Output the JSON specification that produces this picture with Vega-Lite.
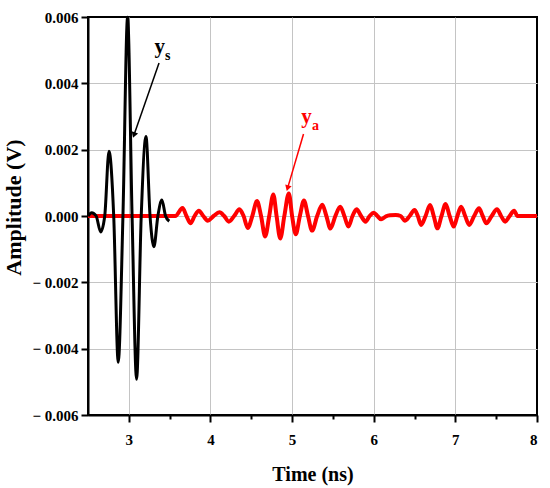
{
  "$schema": "https://vega.github.io/schema/vega-lite/v6.json",
  "width": 449,
  "height": 398,
  "autosize": "none",
  "padding": {"left": 88, "top": 17, "right": 13, "bottom": 73},
  "background": "white",
  "datasets": {
    "ys": [
      {"t": 2.5, "v": 0}, {"t": 2.545, "v": 0.0001}, {"t": 2.6, "v": 0},
      {"t": 2.655, "v": -0.00048}, {"t": 2.705, "v": 0}, {"t": 2.757, "v": 0.00195},
      {"t": 2.815, "v": 0}, {"t": 2.87, "v": -0.00441}, {"t": 2.928, "v": 0},
      {"t": 2.985, "v": 0.00599}, {"t": 3.04, "v": 0}, {"t": 3.095, "v": -0.00492},
      {"t": 3.152, "v": 0}, {"t": 3.21, "v": 0.0024}, {"t": 3.26, "v": 0},
      {"t": 3.307, "v": -0.00093}, {"t": 3.356, "v": 0}, {"t": 3.405, "v": 0.00048},
      {"t": 3.45, "v": 0}, {"t": 3.495, "v": -0.00016}
    ],
    "ya": [
      {"t": 2.5, "v": 0}, {"t": 3.5, "v": 0}, {"t": 3.57, "v": 0},
      {"t": 3.658, "v": 0.00024}, {"t": 3.706, "v": 0}, {"t": 3.755, "v": -0.00022},
      {"t": 3.806, "v": 0}, {"t": 3.858, "v": 0.00016}, {"t": 3.912, "v": 0},
      {"t": 3.966, "v": -0.00014}, {"t": 4.038, "v": 0}, {"t": 4.11, "v": 0.00011},
      {"t": 4.168, "v": 0}, {"t": 4.225, "v": -0.00017}, {"t": 4.29, "v": 0},
      {"t": 4.355, "v": 0.0002}, {"t": 4.406, "v": 0}, {"t": 4.457, "v": -0.00036},
      {"t": 4.513, "v": 0}, {"t": 4.57, "v": 0.00045}, {"t": 4.62, "v": 0},
      {"t": 4.67, "v": -0.00062}, {"t": 4.72, "v": 0}, {"t": 4.77, "v": 0.00065},
      {"t": 4.81, "v": 0}, {"t": 4.855, "v": -0.00068}, {"t": 4.905, "v": 0},
      {"t": 4.96, "v": 0.00068}, {"t": 5.0, "v": 0}, {"t": 5.045, "v": -0.00055},
      {"t": 5.095, "v": 0}, {"t": 5.145, "v": 0.00047}, {"t": 5.195, "v": 0},
      {"t": 5.245, "v": -0.00044}, {"t": 5.307, "v": 0}, {"t": 5.37, "v": 0.00034},
      {"t": 5.42, "v": 0}, {"t": 5.47, "v": -0.00038}, {"t": 5.53, "v": 0},
      {"t": 5.59, "v": 0.00028}, {"t": 5.64, "v": 0}, {"t": 5.69, "v": -0.00032},
      {"t": 5.74, "v": 0}, {"t": 5.79, "v": 0.0002}, {"t": 5.845, "v": 0},
      {"t": 5.9, "v": -0.00017}, {"t": 5.95, "v": 0}, {"t": 6.0, "v": 0.0001},
      {"t": 6.045, "v": 0}, {"t": 6.09, "v": -0.0001}, {"t": 6.15, "v": -0.00001},
      {"t": 6.2, "v": 0.00002}, {"t": 6.27, "v": 0.00003}, {"t": 6.33, "v": 0},
      {"t": 6.38, "v": -0.00014}, {"t": 6.44, "v": 0}, {"t": 6.5, "v": 0.00018},
      {"t": 6.54, "v": 0}, {"t": 6.58, "v": -0.00027}, {"t": 6.635, "v": 0},
      {"t": 6.69, "v": 0.00033}, {"t": 6.735, "v": 0}, {"t": 6.78, "v": -0.00037},
      {"t": 6.83, "v": 0}, {"t": 6.88, "v": 0.00036}, {"t": 6.93, "v": 0},
      {"t": 6.98, "v": -0.00032}, {"t": 7.025, "v": 0}, {"t": 7.07, "v": 0.00028},
      {"t": 7.12, "v": 0}, {"t": 7.17, "v": -0.00027}, {"t": 7.23, "v": 0},
      {"t": 7.29, "v": 0.00023}, {"t": 7.335, "v": 0}, {"t": 7.38, "v": -0.00022},
      {"t": 7.445, "v": 0}, {"t": 7.51, "v": 0.0002}, {"t": 7.56, "v": 0},
      {"t": 7.61, "v": -0.00017}, {"t": 7.665, "v": 0}, {"t": 7.72, "v": 0.00016},
      {"t": 7.76, "v": 0}, {"t": 8.0, "v": 0}
    ],
    "arrows": [
      {"series": "ys", "t": 3.37, "v": 0.00461, "t2": 3.063, "v2": 0.00244},
      {"series": "ya", "t": 5.14, "v": 0.00247, "t2": 4.945, "v2": 0.00084}
    ],
    "labels": [
      {"series": "ys", "main": "y", "sub": "s", "t": 3.38, "v": 0.0051, "ts": 3.478, "vs": 0.00482},
      {"series": "ya", "main": "y", "sub": "a", "t": 5.176, "v": 0.00298, "ts": 5.286, "vs": 0.00271}
    ]
  },
  "layer": [
    {
      "data": {"name": "ya"},
      "mark": {"type": "line", "color": "#ff0000", "strokeWidth": 4, "interpolate": "monotone"},
      "encoding": {
        "x": {
          "field": "t", "type": "quantitative", "title": "Time (ns)",
          "scale": {"domain": [2.5, 8], "nice": false, "zero": false},
          "axis": {
            "values": [3, 3.5, 4, 4.5, 5, 5.5, 6, 6.5, 7, 7.5, 8],
            "labelExpr": "datum.value % 1 == 0 ? format(datum.value, 'd') : ''",
            "gridOpacity": {"condition": {"test": "datum.value % 1 == 0 && datum.value < 8", "value": 1}, "value": 0},
            "tickSize": {"condition": {"test": "datum.value % 1 == 0", "value": 7}, "value": 4},
            "labelPadding": 10,
            "titlePadding": 17,
            "titleFontSize": 20
          }
        },
        "y": {
          "field": "v", "type": "quantitative", "title": "Amplitude (V)",
          "scale": {"domain": [-0.006, 0.006], "nice": false},
          "axis": {
            "values": [-0.006, -0.005, -0.004, -0.003, -0.002, -0.001, 0, 0.001, 0.002, 0.003, 0.004, 0.005, 0.006],
            "labelExpr": "abs(round(datum.value * 1000)) % 2 == 0 ? (datum.value < -0.0001 ? '− ' + format(-datum.value, '.3f') : format(abs(datum.value), '.3f')) : ''",
            "gridOpacity": {"condition": {"test": "abs(round(datum.value * 1000)) % 2 == 0 && abs(datum.value) < 0.0055", "value": 1}, "value": 0},
            "tickSize": {"condition": {"test": "abs(round(datum.value * 1000)) % 2 == 0", "value": 7}, "value": 4},
            "labelPadding": 3,
            "titlePadding": 6,
            "titleFontSize": 22,
            "titleY": 190
          }
        }
      }
    },
    {
      "data": {"name": "ys"},
      "mark": {"type": "line", "color": "#000000", "strokeWidth": 3, "interpolate": "monotone"},
      "encoding": {
        "x": {"field": "t", "type": "quantitative"},
        "y": {"field": "v", "type": "quantitative"}
      }
    },
    {
      "data": {"name": "arrows"},
      "mark": {"type": "rule", "strokeWidth": 1.5},
      "encoding": {
        "x": {"field": "t", "type": "quantitative"},
        "y": {"field": "v", "type": "quantitative"},
        "x2": {"field": "t2"},
        "y2": {"field": "v2"},
        "color": {"field": "series", "type": "nominal", "scale": {"domain": ["ys", "ya"], "range": ["#000000", "#ff0000"]}, "legend": null}
      }
    },
    {
      "data": {"name": "arrows"},
      "transform": [{"filter": "datum.series == 'ys'"}],
      "mark": {"type": "point", "shape": "triangle-up", "filled": true, "size": 45, "angle": 199, "opacity": 1},
      "encoding": {
        "x": {"field": "t2", "type": "quantitative"},
        "y": {"field": "v2", "type": "quantitative"},
        "color": {"field": "series", "type": "nominal", "legend": null}
      }
    },
    {
      "data": {"name": "arrows"},
      "transform": [{"filter": "datum.series == 'ya'"}],
      "mark": {"type": "point", "shape": "triangle-up", "filled": true, "size": 45, "angle": 197, "opacity": 1},
      "encoding": {
        "x": {"field": "t2", "type": "quantitative"},
        "y": {"field": "v2", "type": "quantitative"},
        "color": {"field": "series", "type": "nominal", "legend": null}
      }
    },
    {
      "data": {"name": "labels"},
      "mark": {"type": "text", "font": "Liberation Serif", "fontWeight": "bold", "fontSize": 21, "align": "center", "baseline": "middle"},
      "encoding": {
        "x": {"field": "t", "type": "quantitative"},
        "y": {"field": "v", "type": "quantitative"},
        "text": {"field": "main"},
        "color": {"field": "series", "type": "nominal", "legend": null}
      }
    },
    {
      "data": {"name": "labels"},
      "mark": {"type": "text", "font": "Liberation Serif", "fontWeight": "bold", "fontSize": 14, "align": "center", "baseline": "middle"},
      "encoding": {
        "x": {"field": "ts", "type": "quantitative"},
        "y": {"field": "vs", "type": "quantitative"},
        "text": {"field": "sub"},
        "color": {"field": "series", "type": "nominal", "legend": null}
      }
    }
  ],
  "config": {
    "view": {"stroke": "#000000", "strokeWidth": 2},
    "axis": {
      "domainColor": "#000000",
      "domainWidth": 2,
      "tickColor": "#000000",
      "tickWidth": 2,
      "gridColor": "#c4c4c4",
      "gridWidth": 1,
      "labelFont": "Liberation Serif",
      "labelFontWeight": "bold",
      "labelFontSize": 15,
      "labelColor": "#000000",
      "titleFont": "Liberation Serif",
      "titleFontWeight": "bold",
      "titleColor": "#000000"
    }
  }
}
